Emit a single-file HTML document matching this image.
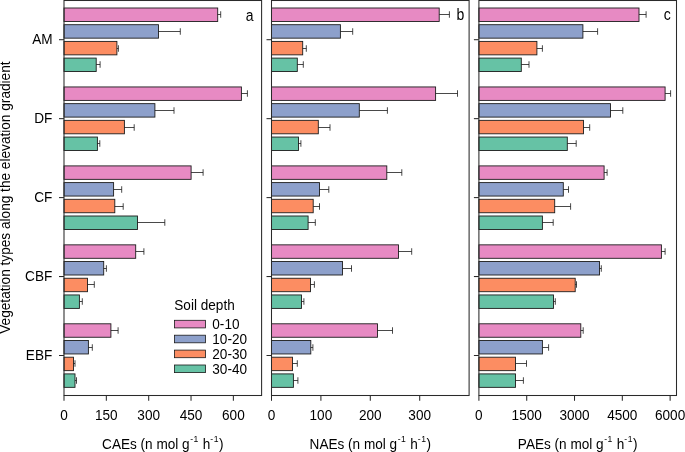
<!DOCTYPE html><html><head><meta charset="utf-8"><style>html,body{margin:0;padding:0;background:#fff;overflow:hidden;width:685px;height:452px;}svg{display:block;}text{font-family:"Liberation Sans",Arial,sans-serif;fill:#000;}</style></head><body>
<svg width="685" height="452" viewBox="0 0 685 452">
<rect x="0" y="0" width="685" height="452" fill="#fff"/>
<rect x="64.00" y="8.00" width="153.70" height="13.45" fill="#E78AC3" stroke="#1c1c1c" stroke-width="0.9"/>
<line x1="217.70" y1="14.50" x2="220.70" y2="14.50" stroke="#1a1a1a" stroke-width="0.8"/>
<line x1="220.70" y1="11.25" x2="220.70" y2="17.75" stroke="#1a1a1a" stroke-width="0.8"/>
<rect x="64.00" y="24.70" width="94.50" height="13.45" fill="#8DA0CB" stroke="#1c1c1c" stroke-width="0.9"/>
<line x1="158.50" y1="31.50" x2="180.30" y2="31.50" stroke="#1a1a1a" stroke-width="0.8"/>
<line x1="180.30" y1="28.25" x2="180.30" y2="34.75" stroke="#1a1a1a" stroke-width="0.8"/>
<rect x="64.00" y="41.40" width="52.90" height="13.45" fill="#FC8D62" stroke="#1c1c1c" stroke-width="0.9"/>
<line x1="116.90" y1="48.50" x2="118.40" y2="48.50" stroke="#1a1a1a" stroke-width="0.8"/>
<line x1="118.40" y1="45.25" x2="118.40" y2="51.75" stroke="#1a1a1a" stroke-width="0.8"/>
<rect x="64.00" y="58.10" width="32.20" height="13.45" fill="#66C2A5" stroke="#1c1c1c" stroke-width="0.9"/>
<line x1="96.20" y1="64.50" x2="100.10" y2="64.50" stroke="#1a1a1a" stroke-width="0.8"/>
<line x1="100.10" y1="61.25" x2="100.10" y2="67.75" stroke="#1a1a1a" stroke-width="0.8"/>
<rect x="64.00" y="86.95" width="177.40" height="13.45" fill="#E78AC3" stroke="#1c1c1c" stroke-width="0.9"/>
<line x1="241.40" y1="93.50" x2="247.40" y2="93.50" stroke="#1a1a1a" stroke-width="0.8"/>
<line x1="247.40" y1="90.25" x2="247.40" y2="96.75" stroke="#1a1a1a" stroke-width="0.8"/>
<rect x="64.00" y="103.65" width="90.90" height="13.45" fill="#8DA0CB" stroke="#1c1c1c" stroke-width="0.9"/>
<line x1="154.90" y1="110.50" x2="174.00" y2="110.50" stroke="#1a1a1a" stroke-width="0.8"/>
<line x1="174.00" y1="107.25" x2="174.00" y2="113.75" stroke="#1a1a1a" stroke-width="0.8"/>
<rect x="64.00" y="120.35" width="60.40" height="13.45" fill="#FC8D62" stroke="#1c1c1c" stroke-width="0.9"/>
<line x1="124.40" y1="127.50" x2="134.20" y2="127.50" stroke="#1a1a1a" stroke-width="0.8"/>
<line x1="134.20" y1="124.25" x2="134.20" y2="130.75" stroke="#1a1a1a" stroke-width="0.8"/>
<rect x="64.00" y="137.05" width="33.40" height="13.45" fill="#66C2A5" stroke="#1c1c1c" stroke-width="0.9"/>
<line x1="97.40" y1="143.50" x2="99.80" y2="143.50" stroke="#1a1a1a" stroke-width="0.8"/>
<line x1="99.80" y1="140.25" x2="99.80" y2="146.75" stroke="#1a1a1a" stroke-width="0.8"/>
<rect x="64.00" y="165.90" width="127.10" height="13.45" fill="#E78AC3" stroke="#1c1c1c" stroke-width="0.9"/>
<line x1="191.10" y1="172.50" x2="203.10" y2="172.50" stroke="#1a1a1a" stroke-width="0.8"/>
<line x1="203.10" y1="169.25" x2="203.10" y2="175.75" stroke="#1a1a1a" stroke-width="0.8"/>
<rect x="64.00" y="182.60" width="49.60" height="13.45" fill="#8DA0CB" stroke="#1c1c1c" stroke-width="0.9"/>
<line x1="113.60" y1="189.50" x2="121.70" y2="189.50" stroke="#1a1a1a" stroke-width="0.8"/>
<line x1="121.70" y1="186.25" x2="121.70" y2="192.75" stroke="#1a1a1a" stroke-width="0.8"/>
<rect x="64.00" y="199.30" width="50.80" height="13.45" fill="#FC8D62" stroke="#1c1c1c" stroke-width="0.9"/>
<line x1="114.80" y1="206.50" x2="123.20" y2="206.50" stroke="#1a1a1a" stroke-width="0.8"/>
<line x1="123.20" y1="203.25" x2="123.20" y2="209.75" stroke="#1a1a1a" stroke-width="0.8"/>
<rect x="64.00" y="216.00" width="73.50" height="13.45" fill="#66C2A5" stroke="#1c1c1c" stroke-width="0.9"/>
<line x1="137.50" y1="222.50" x2="164.80" y2="222.50" stroke="#1a1a1a" stroke-width="0.8"/>
<line x1="164.80" y1="219.25" x2="164.80" y2="225.75" stroke="#1a1a1a" stroke-width="0.8"/>
<rect x="64.00" y="244.85" width="71.70" height="13.45" fill="#E78AC3" stroke="#1c1c1c" stroke-width="0.9"/>
<line x1="135.70" y1="251.50" x2="143.90" y2="251.50" stroke="#1a1a1a" stroke-width="0.8"/>
<line x1="143.90" y1="248.25" x2="143.90" y2="254.75" stroke="#1a1a1a" stroke-width="0.8"/>
<rect x="64.00" y="261.55" width="39.70" height="13.45" fill="#8DA0CB" stroke="#1c1c1c" stroke-width="0.9"/>
<line x1="103.70" y1="268.50" x2="106.40" y2="268.50" stroke="#1a1a1a" stroke-width="0.8"/>
<line x1="106.40" y1="265.25" x2="106.40" y2="271.75" stroke="#1a1a1a" stroke-width="0.8"/>
<rect x="64.00" y="278.25" width="23.50" height="13.45" fill="#FC8D62" stroke="#1c1c1c" stroke-width="0.9"/>
<line x1="87.50" y1="284.50" x2="94.30" y2="284.50" stroke="#1a1a1a" stroke-width="0.8"/>
<line x1="94.30" y1="281.25" x2="94.30" y2="287.75" stroke="#1a1a1a" stroke-width="0.8"/>
<rect x="64.00" y="294.95" width="15.40" height="13.45" fill="#66C2A5" stroke="#1c1c1c" stroke-width="0.9"/>
<line x1="79.40" y1="301.50" x2="82.30" y2="301.50" stroke="#1a1a1a" stroke-width="0.8"/>
<line x1="82.30" y1="298.25" x2="82.30" y2="304.75" stroke="#1a1a1a" stroke-width="0.8"/>
<rect x="64.00" y="323.80" width="46.90" height="13.45" fill="#E78AC3" stroke="#1c1c1c" stroke-width="0.9"/>
<line x1="110.90" y1="330.50" x2="118.10" y2="330.50" stroke="#1a1a1a" stroke-width="0.8"/>
<line x1="118.10" y1="327.25" x2="118.10" y2="333.75" stroke="#1a1a1a" stroke-width="0.8"/>
<rect x="64.00" y="340.50" width="24.40" height="13.45" fill="#8DA0CB" stroke="#1c1c1c" stroke-width="0.9"/>
<line x1="88.40" y1="347.50" x2="92.30" y2="347.50" stroke="#1a1a1a" stroke-width="0.8"/>
<line x1="92.30" y1="344.25" x2="92.30" y2="350.75" stroke="#1a1a1a" stroke-width="0.8"/>
<rect x="64.00" y="357.20" width="9.50" height="13.45" fill="#FC8D62" stroke="#1c1c1c" stroke-width="0.9"/>
<line x1="73.50" y1="363.50" x2="75.00" y2="363.50" stroke="#1a1a1a" stroke-width="0.8"/>
<line x1="75.00" y1="360.25" x2="75.00" y2="366.75" stroke="#1a1a1a" stroke-width="0.8"/>
<rect x="64.00" y="373.90" width="11.00" height="13.45" fill="#66C2A5" stroke="#1c1c1c" stroke-width="0.9"/>
<line x1="75.00" y1="380.50" x2="76.50" y2="380.50" stroke="#1a1a1a" stroke-width="0.8"/>
<line x1="76.50" y1="377.25" x2="76.50" y2="383.75" stroke="#1a1a1a" stroke-width="0.8"/>
<rect x="64.00" y="0.5" width="197.60" height="395.00" fill="none" stroke="#2a2a2a" stroke-width="1.05"/>
<line x1="59.00" y1="39.70" x2="64.00" y2="39.70" stroke="#2a2a2a" stroke-width="1.05"/>
<line x1="59.00" y1="118.65" x2="64.00" y2="118.65" stroke="#2a2a2a" stroke-width="1.05"/>
<line x1="59.00" y1="197.60" x2="64.00" y2="197.60" stroke="#2a2a2a" stroke-width="1.05"/>
<line x1="59.00" y1="276.55" x2="64.00" y2="276.55" stroke="#2a2a2a" stroke-width="1.05"/>
<line x1="59.00" y1="355.50" x2="64.00" y2="355.50" stroke="#2a2a2a" stroke-width="1.05"/>
<line x1="64.00" y1="395.50" x2="64.00" y2="400.80" stroke="#2a2a2a" stroke-width="1.05"/>
<text transform="translate(64.00,420.10) scale(1,1.12)" font-size="13.6" text-anchor="middle">0</text>
<line x1="106.34" y1="395.50" x2="106.34" y2="400.80" stroke="#2a2a2a" stroke-width="1.05"/>
<text transform="translate(106.34,420.10) scale(1,1.12)" font-size="13.6" text-anchor="middle">150</text>
<line x1="148.69" y1="395.50" x2="148.69" y2="400.80" stroke="#2a2a2a" stroke-width="1.05"/>
<text transform="translate(148.69,420.10) scale(1,1.12)" font-size="13.6" text-anchor="middle">300</text>
<line x1="191.03" y1="395.50" x2="191.03" y2="400.80" stroke="#2a2a2a" stroke-width="1.05"/>
<text transform="translate(191.03,420.10) scale(1,1.12)" font-size="13.6" text-anchor="middle">450</text>
<line x1="233.37" y1="395.50" x2="233.37" y2="400.80" stroke="#2a2a2a" stroke-width="1.05"/>
<text transform="translate(233.37,420.10) scale(1,1.12)" font-size="13.6" text-anchor="middle">600</text>
<text transform="translate(162.80,448.60) scale(1,1.12)" font-size="13.6" text-anchor="middle">CAEs (n mol g<tspan font-size="8.6" dx="0.5" dy="-6.1">-</tspan><tspan font-size="8.6" dx="0.5">1</tspan><tspan dx="0.6" dy="6.1"> h</tspan><tspan font-size="8.6" dx="-0.1" dy="-6.1">-</tspan><tspan font-size="8.6" dx="0.7">1</tspan><tspan dx="0.5" dy="6.1">)</tspan></text>
<text transform="translate(253.50,20.70) scale(1,1.12)" font-size="14.0" text-anchor="end">a</text>
<rect x="271.50" y="8.00" width="167.70" height="13.45" fill="#E78AC3" stroke="#1c1c1c" stroke-width="0.9"/>
<line x1="439.20" y1="14.50" x2="449.40" y2="14.50" stroke="#1a1a1a" stroke-width="0.8"/>
<line x1="449.40" y1="11.25" x2="449.40" y2="17.75" stroke="#1a1a1a" stroke-width="0.8"/>
<rect x="271.50" y="24.70" width="68.90" height="13.45" fill="#8DA0CB" stroke="#1c1c1c" stroke-width="0.9"/>
<line x1="340.40" y1="31.50" x2="352.70" y2="31.50" stroke="#1a1a1a" stroke-width="0.8"/>
<line x1="352.70" y1="28.25" x2="352.70" y2="34.75" stroke="#1a1a1a" stroke-width="0.8"/>
<rect x="271.50" y="41.40" width="31.20" height="13.45" fill="#FC8D62" stroke="#1c1c1c" stroke-width="0.9"/>
<line x1="302.70" y1="48.50" x2="306.30" y2="48.50" stroke="#1a1a1a" stroke-width="0.8"/>
<line x1="306.30" y1="45.25" x2="306.30" y2="51.75" stroke="#1a1a1a" stroke-width="0.8"/>
<rect x="271.50" y="58.10" width="25.80" height="13.45" fill="#66C2A5" stroke="#1c1c1c" stroke-width="0.9"/>
<line x1="297.30" y1="64.50" x2="303.30" y2="64.50" stroke="#1a1a1a" stroke-width="0.8"/>
<line x1="303.30" y1="61.25" x2="303.30" y2="67.75" stroke="#1a1a1a" stroke-width="0.8"/>
<rect x="271.50" y="86.95" width="164.10" height="13.45" fill="#E78AC3" stroke="#1c1c1c" stroke-width="0.9"/>
<line x1="435.60" y1="93.50" x2="457.50" y2="93.50" stroke="#1a1a1a" stroke-width="0.8"/>
<line x1="457.50" y1="90.25" x2="457.50" y2="96.75" stroke="#1a1a1a" stroke-width="0.8"/>
<rect x="271.50" y="103.65" width="87.80" height="13.45" fill="#8DA0CB" stroke="#1c1c1c" stroke-width="0.9"/>
<line x1="359.30" y1="110.50" x2="387.40" y2="110.50" stroke="#1a1a1a" stroke-width="0.8"/>
<line x1="387.40" y1="107.25" x2="387.40" y2="113.75" stroke="#1a1a1a" stroke-width="0.8"/>
<rect x="271.50" y="120.35" width="46.80" height="13.45" fill="#FC8D62" stroke="#1c1c1c" stroke-width="0.9"/>
<line x1="318.30" y1="127.50" x2="330.00" y2="127.50" stroke="#1a1a1a" stroke-width="0.8"/>
<line x1="330.00" y1="124.25" x2="330.00" y2="130.75" stroke="#1a1a1a" stroke-width="0.8"/>
<rect x="271.50" y="137.05" width="27.00" height="13.45" fill="#66C2A5" stroke="#1c1c1c" stroke-width="0.9"/>
<line x1="298.50" y1="143.50" x2="300.90" y2="143.50" stroke="#1a1a1a" stroke-width="0.8"/>
<line x1="300.90" y1="140.25" x2="300.90" y2="146.75" stroke="#1a1a1a" stroke-width="0.8"/>
<rect x="271.50" y="165.90" width="115.30" height="13.45" fill="#E78AC3" stroke="#1c1c1c" stroke-width="0.9"/>
<line x1="386.80" y1="172.50" x2="401.80" y2="172.50" stroke="#1a1a1a" stroke-width="0.8"/>
<line x1="401.80" y1="169.25" x2="401.80" y2="175.75" stroke="#1a1a1a" stroke-width="0.8"/>
<rect x="271.50" y="182.60" width="48.00" height="13.45" fill="#8DA0CB" stroke="#1c1c1c" stroke-width="0.9"/>
<line x1="319.50" y1="189.50" x2="328.80" y2="189.50" stroke="#1a1a1a" stroke-width="0.8"/>
<line x1="328.80" y1="186.25" x2="328.80" y2="192.75" stroke="#1a1a1a" stroke-width="0.8"/>
<rect x="271.50" y="199.30" width="41.70" height="13.45" fill="#FC8D62" stroke="#1c1c1c" stroke-width="0.9"/>
<line x1="313.20" y1="206.50" x2="319.50" y2="206.50" stroke="#1a1a1a" stroke-width="0.8"/>
<line x1="319.50" y1="203.25" x2="319.50" y2="209.75" stroke="#1a1a1a" stroke-width="0.8"/>
<rect x="271.50" y="216.00" width="36.60" height="13.45" fill="#66C2A5" stroke="#1c1c1c" stroke-width="0.9"/>
<line x1="308.10" y1="222.50" x2="315.30" y2="222.50" stroke="#1a1a1a" stroke-width="0.8"/>
<line x1="315.30" y1="219.25" x2="315.30" y2="225.75" stroke="#1a1a1a" stroke-width="0.8"/>
<rect x="271.50" y="244.85" width="127.00" height="13.45" fill="#E78AC3" stroke="#1c1c1c" stroke-width="0.9"/>
<line x1="398.50" y1="251.50" x2="411.70" y2="251.50" stroke="#1a1a1a" stroke-width="0.8"/>
<line x1="411.70" y1="248.25" x2="411.70" y2="254.75" stroke="#1a1a1a" stroke-width="0.8"/>
<rect x="271.50" y="261.55" width="71.00" height="13.45" fill="#8DA0CB" stroke="#1c1c1c" stroke-width="0.9"/>
<line x1="342.50" y1="268.50" x2="351.50" y2="268.50" stroke="#1a1a1a" stroke-width="0.8"/>
<line x1="351.50" y1="265.25" x2="351.50" y2="271.75" stroke="#1a1a1a" stroke-width="0.8"/>
<rect x="271.50" y="278.25" width="39.00" height="13.45" fill="#FC8D62" stroke="#1c1c1c" stroke-width="0.9"/>
<line x1="310.50" y1="284.50" x2="314.40" y2="284.50" stroke="#1a1a1a" stroke-width="0.8"/>
<line x1="314.40" y1="281.25" x2="314.40" y2="287.75" stroke="#1a1a1a" stroke-width="0.8"/>
<rect x="271.50" y="294.95" width="30.00" height="13.45" fill="#66C2A5" stroke="#1c1c1c" stroke-width="0.9"/>
<line x1="301.50" y1="301.50" x2="303.90" y2="301.50" stroke="#1a1a1a" stroke-width="0.8"/>
<line x1="303.90" y1="298.25" x2="303.90" y2="304.75" stroke="#1a1a1a" stroke-width="0.8"/>
<rect x="271.50" y="323.80" width="106.00" height="13.45" fill="#E78AC3" stroke="#1c1c1c" stroke-width="0.9"/>
<line x1="377.50" y1="330.50" x2="392.50" y2="330.50" stroke="#1a1a1a" stroke-width="0.8"/>
<line x1="392.50" y1="327.25" x2="392.50" y2="333.75" stroke="#1a1a1a" stroke-width="0.8"/>
<rect x="271.50" y="340.50" width="39.30" height="13.45" fill="#8DA0CB" stroke="#1c1c1c" stroke-width="0.9"/>
<line x1="310.80" y1="347.50" x2="312.90" y2="347.50" stroke="#1a1a1a" stroke-width="0.8"/>
<line x1="312.90" y1="344.25" x2="312.90" y2="350.75" stroke="#1a1a1a" stroke-width="0.8"/>
<rect x="271.50" y="357.20" width="21.00" height="13.45" fill="#FC8D62" stroke="#1c1c1c" stroke-width="0.9"/>
<line x1="292.50" y1="363.50" x2="297.30" y2="363.50" stroke="#1a1a1a" stroke-width="0.8"/>
<line x1="297.30" y1="360.25" x2="297.30" y2="366.75" stroke="#1a1a1a" stroke-width="0.8"/>
<rect x="271.50" y="373.90" width="21.90" height="13.45" fill="#66C2A5" stroke="#1c1c1c" stroke-width="0.9"/>
<line x1="293.40" y1="380.50" x2="297.90" y2="380.50" stroke="#1a1a1a" stroke-width="0.8"/>
<line x1="297.90" y1="377.25" x2="297.90" y2="383.75" stroke="#1a1a1a" stroke-width="0.8"/>
<rect x="271.50" y="0.5" width="197.60" height="395.00" fill="none" stroke="#2a2a2a" stroke-width="1.05"/>
<line x1="266.50" y1="39.70" x2="271.50" y2="39.70" stroke="#2a2a2a" stroke-width="1.05"/>
<line x1="266.50" y1="118.65" x2="271.50" y2="118.65" stroke="#2a2a2a" stroke-width="1.05"/>
<line x1="266.50" y1="197.60" x2="271.50" y2="197.60" stroke="#2a2a2a" stroke-width="1.05"/>
<line x1="266.50" y1="276.55" x2="271.50" y2="276.55" stroke="#2a2a2a" stroke-width="1.05"/>
<line x1="266.50" y1="355.50" x2="271.50" y2="355.50" stroke="#2a2a2a" stroke-width="1.05"/>
<line x1="271.50" y1="395.50" x2="271.50" y2="400.80" stroke="#2a2a2a" stroke-width="1.05"/>
<text transform="translate(271.50,420.10) scale(1,1.12)" font-size="13.6" text-anchor="middle">0</text>
<line x1="320.90" y1="395.50" x2="320.90" y2="400.80" stroke="#2a2a2a" stroke-width="1.05"/>
<text transform="translate(320.90,420.10) scale(1,1.12)" font-size="13.6" text-anchor="middle">100</text>
<line x1="370.30" y1="395.50" x2="370.30" y2="400.80" stroke="#2a2a2a" stroke-width="1.05"/>
<text transform="translate(370.30,420.10) scale(1,1.12)" font-size="13.6" text-anchor="middle">200</text>
<line x1="419.70" y1="395.50" x2="419.70" y2="400.80" stroke="#2a2a2a" stroke-width="1.05"/>
<text transform="translate(419.70,420.10) scale(1,1.12)" font-size="13.6" text-anchor="middle">300</text>
<text transform="translate(370.30,448.60) scale(1,1.12)" font-size="13.6" text-anchor="middle">NAEs (n mol g<tspan font-size="8.6" dx="0.5" dy="-6.1">-</tspan><tspan font-size="8.6" dx="0.5">1</tspan><tspan dx="0.6" dy="6.1"> h</tspan><tspan font-size="8.6" dx="-0.1" dy="-6.1">-</tspan><tspan font-size="8.6" dx="0.7">1</tspan><tspan dx="0.5" dy="6.1">)</tspan></text>
<text transform="translate(464.30,20.00) scale(1,1.12)" font-size="14.0" text-anchor="end">b</text>
<rect x="478.90" y="8.00" width="160.10" height="13.45" fill="#E78AC3" stroke="#1c1c1c" stroke-width="0.9"/>
<line x1="639.00" y1="14.50" x2="646.10" y2="14.50" stroke="#1a1a1a" stroke-width="0.8"/>
<line x1="646.10" y1="11.25" x2="646.10" y2="17.75" stroke="#1a1a1a" stroke-width="0.8"/>
<rect x="478.90" y="24.70" width="104.00" height="13.45" fill="#8DA0CB" stroke="#1c1c1c" stroke-width="0.9"/>
<line x1="582.90" y1="31.50" x2="597.60" y2="31.50" stroke="#1a1a1a" stroke-width="0.8"/>
<line x1="597.60" y1="28.25" x2="597.60" y2="34.75" stroke="#1a1a1a" stroke-width="0.8"/>
<rect x="478.90" y="41.40" width="58.00" height="13.45" fill="#FC8D62" stroke="#1c1c1c" stroke-width="0.9"/>
<line x1="536.90" y1="48.50" x2="542.40" y2="48.50" stroke="#1a1a1a" stroke-width="0.8"/>
<line x1="542.40" y1="45.25" x2="542.40" y2="51.75" stroke="#1a1a1a" stroke-width="0.8"/>
<rect x="478.90" y="58.10" width="42.40" height="13.45" fill="#66C2A5" stroke="#1c1c1c" stroke-width="0.9"/>
<line x1="521.30" y1="64.50" x2="529.00" y2="64.50" stroke="#1a1a1a" stroke-width="0.8"/>
<line x1="529.00" y1="61.25" x2="529.00" y2="67.75" stroke="#1a1a1a" stroke-width="0.8"/>
<rect x="478.90" y="86.95" width="186.20" height="13.45" fill="#E78AC3" stroke="#1c1c1c" stroke-width="0.9"/>
<line x1="665.10" y1="93.50" x2="670.60" y2="93.50" stroke="#1a1a1a" stroke-width="0.8"/>
<line x1="670.60" y1="90.25" x2="670.60" y2="96.75" stroke="#1a1a1a" stroke-width="0.8"/>
<rect x="478.90" y="103.65" width="131.60" height="13.45" fill="#8DA0CB" stroke="#1c1c1c" stroke-width="0.9"/>
<line x1="610.50" y1="110.50" x2="622.80" y2="110.50" stroke="#1a1a1a" stroke-width="0.8"/>
<line x1="622.80" y1="107.25" x2="622.80" y2="113.75" stroke="#1a1a1a" stroke-width="0.8"/>
<rect x="478.90" y="120.35" width="104.60" height="13.45" fill="#FC8D62" stroke="#1c1c1c" stroke-width="0.9"/>
<line x1="583.50" y1="127.50" x2="589.70" y2="127.50" stroke="#1a1a1a" stroke-width="0.8"/>
<line x1="589.70" y1="124.25" x2="589.70" y2="130.75" stroke="#1a1a1a" stroke-width="0.8"/>
<rect x="478.90" y="137.05" width="88.40" height="13.45" fill="#66C2A5" stroke="#1c1c1c" stroke-width="0.9"/>
<line x1="567.30" y1="143.50" x2="576.20" y2="143.50" stroke="#1a1a1a" stroke-width="0.8"/>
<line x1="576.20" y1="140.25" x2="576.20" y2="146.75" stroke="#1a1a1a" stroke-width="0.8"/>
<rect x="478.90" y="165.90" width="125.20" height="13.45" fill="#E78AC3" stroke="#1c1c1c" stroke-width="0.9"/>
<line x1="604.10" y1="172.50" x2="607.10" y2="172.50" stroke="#1a1a1a" stroke-width="0.8"/>
<line x1="607.10" y1="169.25" x2="607.10" y2="175.75" stroke="#1a1a1a" stroke-width="0.8"/>
<rect x="478.90" y="182.60" width="84.40" height="13.45" fill="#8DA0CB" stroke="#1c1c1c" stroke-width="0.9"/>
<line x1="563.30" y1="189.50" x2="568.50" y2="189.50" stroke="#1a1a1a" stroke-width="0.8"/>
<line x1="568.50" y1="186.25" x2="568.50" y2="192.75" stroke="#1a1a1a" stroke-width="0.8"/>
<rect x="478.90" y="199.30" width="75.80" height="13.45" fill="#FC8D62" stroke="#1c1c1c" stroke-width="0.9"/>
<line x1="554.70" y1="206.50" x2="570.60" y2="206.50" stroke="#1a1a1a" stroke-width="0.8"/>
<line x1="570.60" y1="203.25" x2="570.60" y2="209.75" stroke="#1a1a1a" stroke-width="0.8"/>
<rect x="478.90" y="216.00" width="63.50" height="13.45" fill="#66C2A5" stroke="#1c1c1c" stroke-width="0.9"/>
<line x1="542.40" y1="222.50" x2="553.20" y2="222.50" stroke="#1a1a1a" stroke-width="0.8"/>
<line x1="553.20" y1="219.25" x2="553.20" y2="225.75" stroke="#1a1a1a" stroke-width="0.8"/>
<rect x="478.90" y="244.85" width="182.50" height="13.45" fill="#E78AC3" stroke="#1c1c1c" stroke-width="0.9"/>
<line x1="661.40" y1="251.50" x2="665.10" y2="251.50" stroke="#1a1a1a" stroke-width="0.8"/>
<line x1="665.10" y1="248.25" x2="665.10" y2="254.75" stroke="#1a1a1a" stroke-width="0.8"/>
<rect x="478.90" y="261.55" width="120.60" height="13.45" fill="#8DA0CB" stroke="#1c1c1c" stroke-width="0.9"/>
<line x1="599.50" y1="268.50" x2="601.30" y2="268.50" stroke="#1a1a1a" stroke-width="0.8"/>
<line x1="601.30" y1="265.25" x2="601.30" y2="271.75" stroke="#1a1a1a" stroke-width="0.8"/>
<rect x="478.90" y="278.25" width="96.30" height="13.45" fill="#FC8D62" stroke="#1c1c1c" stroke-width="0.9"/>
<line x1="575.20" y1="284.50" x2="576.50" y2="284.50" stroke="#1a1a1a" stroke-width="0.8"/>
<line x1="576.50" y1="281.25" x2="576.50" y2="287.75" stroke="#1a1a1a" stroke-width="0.8"/>
<rect x="478.90" y="294.95" width="74.60" height="13.45" fill="#66C2A5" stroke="#1c1c1c" stroke-width="0.9"/>
<line x1="553.50" y1="301.50" x2="555.30" y2="301.50" stroke="#1a1a1a" stroke-width="0.8"/>
<line x1="555.30" y1="298.25" x2="555.30" y2="304.75" stroke="#1a1a1a" stroke-width="0.8"/>
<rect x="478.90" y="323.80" width="101.90" height="13.45" fill="#E78AC3" stroke="#1c1c1c" stroke-width="0.9"/>
<line x1="580.80" y1="330.50" x2="583.20" y2="330.50" stroke="#1a1a1a" stroke-width="0.8"/>
<line x1="583.20" y1="327.25" x2="583.20" y2="333.75" stroke="#1a1a1a" stroke-width="0.8"/>
<rect x="478.90" y="340.50" width="63.50" height="13.45" fill="#8DA0CB" stroke="#1c1c1c" stroke-width="0.9"/>
<line x1="542.40" y1="347.50" x2="548.60" y2="347.50" stroke="#1a1a1a" stroke-width="0.8"/>
<line x1="548.60" y1="344.25" x2="548.60" y2="350.75" stroke="#1a1a1a" stroke-width="0.8"/>
<rect x="478.90" y="357.20" width="36.60" height="13.45" fill="#FC8D62" stroke="#1c1c1c" stroke-width="0.9"/>
<line x1="515.50" y1="363.50" x2="526.50" y2="363.50" stroke="#1a1a1a" stroke-width="0.8"/>
<line x1="526.50" y1="360.25" x2="526.50" y2="366.75" stroke="#1a1a1a" stroke-width="0.8"/>
<rect x="478.90" y="373.90" width="36.60" height="13.45" fill="#66C2A5" stroke="#1c1c1c" stroke-width="0.9"/>
<line x1="515.50" y1="380.50" x2="523.40" y2="380.50" stroke="#1a1a1a" stroke-width="0.8"/>
<line x1="523.40" y1="377.25" x2="523.40" y2="383.75" stroke="#1a1a1a" stroke-width="0.8"/>
<rect x="478.90" y="0.5" width="197.60" height="395.00" fill="none" stroke="#2a2a2a" stroke-width="1.05"/>
<line x1="473.90" y1="39.70" x2="478.90" y2="39.70" stroke="#2a2a2a" stroke-width="1.05"/>
<line x1="473.90" y1="118.65" x2="478.90" y2="118.65" stroke="#2a2a2a" stroke-width="1.05"/>
<line x1="473.90" y1="197.60" x2="478.90" y2="197.60" stroke="#2a2a2a" stroke-width="1.05"/>
<line x1="473.90" y1="276.55" x2="478.90" y2="276.55" stroke="#2a2a2a" stroke-width="1.05"/>
<line x1="473.90" y1="355.50" x2="478.90" y2="355.50" stroke="#2a2a2a" stroke-width="1.05"/>
<line x1="478.90" y1="395.50" x2="478.90" y2="400.80" stroke="#2a2a2a" stroke-width="1.05"/>
<text transform="translate(478.90,420.10) scale(1,1.12)" font-size="13.6" text-anchor="middle">0</text>
<line x1="526.71" y1="395.50" x2="526.71" y2="400.80" stroke="#2a2a2a" stroke-width="1.05"/>
<text transform="translate(526.71,420.10) scale(1,1.12)" font-size="13.6" text-anchor="middle">1500</text>
<line x1="574.51" y1="395.50" x2="574.51" y2="400.80" stroke="#2a2a2a" stroke-width="1.05"/>
<text transform="translate(574.51,420.10) scale(1,1.12)" font-size="13.6" text-anchor="middle">3000</text>
<line x1="622.32" y1="395.50" x2="622.32" y2="400.80" stroke="#2a2a2a" stroke-width="1.05"/>
<text transform="translate(622.32,420.10) scale(1,1.12)" font-size="13.6" text-anchor="middle">4500</text>
<line x1="670.13" y1="395.50" x2="670.13" y2="400.80" stroke="#2a2a2a" stroke-width="1.05"/>
<text transform="translate(670.13,420.10) scale(1,1.12)" font-size="13.6" text-anchor="middle">6000</text>
<text transform="translate(577.70,448.60) scale(1,1.12)" font-size="13.6" text-anchor="middle">PAEs (n mol g<tspan font-size="8.6" dx="0.5" dy="-6.1">-</tspan><tspan font-size="8.6" dx="0.5">1</tspan><tspan dx="0.6" dy="6.1"> h</tspan><tspan font-size="8.6" dx="-0.1" dy="-6.1">-</tspan><tspan font-size="8.6" dx="0.7">1</tspan><tspan dx="0.5" dy="6.1">)</tspan></text>
<text transform="translate(670.70,19.70) scale(1,1.12)" font-size="14.0" text-anchor="end">c</text>
<text transform="translate(52.60,44.30) scale(1,1.12)" font-size="13.6" text-anchor="end">AM</text>
<text transform="translate(52.30,123.25) scale(1,1.12)" font-size="13.6" text-anchor="end">DF</text>
<text transform="translate(52.30,202.20) scale(1,1.12)" font-size="13.6" text-anchor="end">CF</text>
<text transform="translate(52.30,281.15) scale(1,1.12)" font-size="13.6" text-anchor="end">CBF</text>
<text transform="translate(52.30,360.10) scale(1,1.12)" font-size="13.6" text-anchor="end">EBF</text>
<text transform="translate(10.0,197.6) rotate(-90) scale(1,1.12)" font-size="13.65" text-anchor="middle">Vegetation types along the elevation gradient</text>
<text transform="translate(174.30,309.90) scale(1,1.12)" font-size="13.6">Soil depth</text>
<rect x="174.5" y="320.30" width="31" height="7.6" fill="#E78AC3" stroke="#1a1a1a" stroke-width="0.8"/>
<text transform="translate(212.30,329.00) scale(1,1.12)" font-size="13.6">0-10</text>
<rect x="174.5" y="335.20" width="31" height="7.6" fill="#8DA0CB" stroke="#1a1a1a" stroke-width="0.8"/>
<text transform="translate(212.30,343.90) scale(1,1.12)" font-size="13.6">10-20</text>
<rect x="174.5" y="350.10" width="31" height="7.6" fill="#FC8D62" stroke="#1a1a1a" stroke-width="0.8"/>
<text transform="translate(212.30,358.80) scale(1,1.12)" font-size="13.6">20-30</text>
<rect x="174.5" y="365.00" width="31" height="7.6" fill="#66C2A5" stroke="#1a1a1a" stroke-width="0.8"/>
<text transform="translate(212.30,373.70) scale(1,1.12)" font-size="13.6">30-40</text>
</svg></body></html>
